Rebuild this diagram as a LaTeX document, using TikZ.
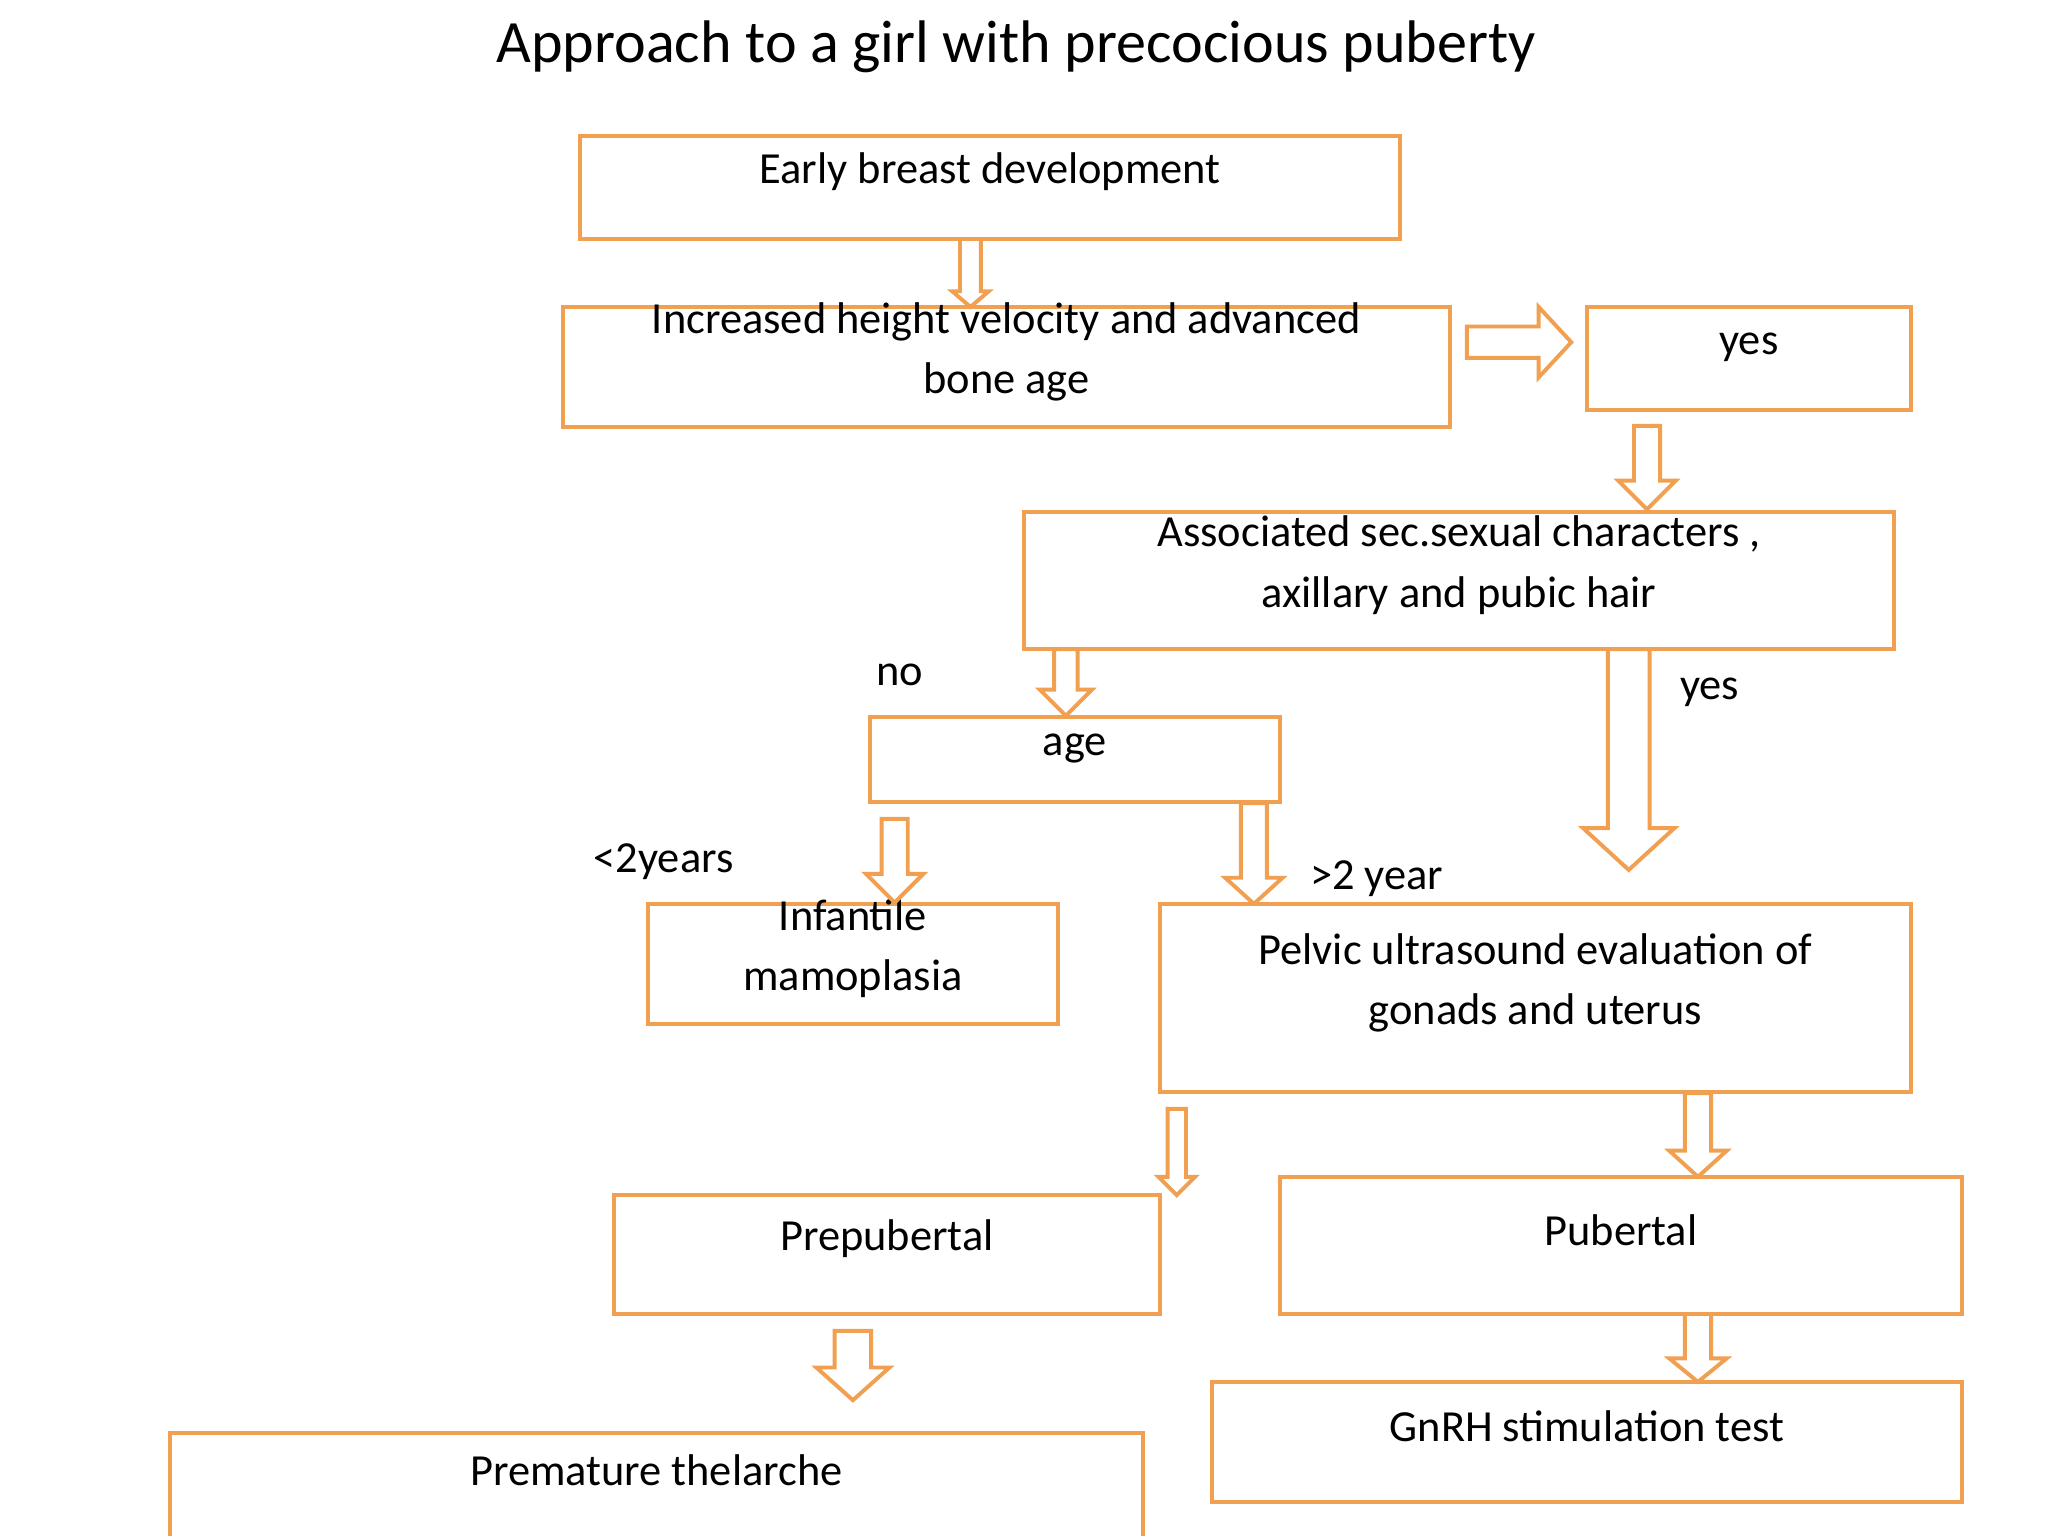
\documentclass[tikz,border=0pt]{standalone}
\usepackage{fontspec}
\setmainfont{Carlito}
\usetikzlibrary{fit}
\definecolor{org}{HTML}{F0A050}
\tikzset{
 box/.style={draw=org,line width=1.6pt,inner sep=0pt,align=center,font=\fontsize{17}{23}\selectfont},
 lbl/.style={font=\fontsize{17}{20}\selectfont},
 blk/.style={draw=org,line width=1.5pt,fill=white,line join=miter}
}
% down block arrow: x, ytop, ybot, shaft half, head half, head length
\newcommand\darr[6]{\draw[blk] (#1-#4,#2)--(#1+#4,#2)--(#1+#4,#3-#6)--(#1+#5,#3-#6)--(#1,#3)--(#1-#5,#3-#6)--(#1-#4,#3-#6)--cycle;}
\newcommand\rarr[6]{\draw[blk] (#2,#1-#4)--(#2,#1+#4)--(#3-#6,#1+#4)--(#3-#6,#1+#5)--(#3,#1)--(#3-#6,#1-#5)--(#3-#6,#1-#4)--cycle;}
\begin{document}
\begin{tikzpicture}[x=0.5pt,y=-0.5pt]
\useasboundingbox (0,0) rectangle (1568,1176);
\node[font=\fontsize{23}{26}\selectfont] (title) at (778,36) {Approach to a girl with precocious puberty};
\node[box,fit={(444,104)(1072,183)}] (b1) {Early breast development};
\node[box,fit={(431,235)(1110,327)}] (b2) {Increased height velocity and advanced\\bone age};
\node[box,fit={(1215,235)(1463,314)}] (yes) {yes};
\node[box,fit={(784,392)(1450,497)}] (b3) {Associated sec.sexual characters ,\\axillary and pubic hair};
\node[box,fit={(666,549)(980,614)}] (age) {age};
\node[box,fit={(496,692)(810,784)}] (inf) {Infantile\\mamoplasia};
\node[box,fit={(888,692)(1463,836)}] (pel) {Pelvic ultrasound evaluation of\\gonads and uterus};
\node[box,fit={(470,915)(888,1006)}] (pre) {Prepubertal};
\node[box,fit={(980,901)(1502,1006)}] (pub) {Pubertal};
\node[box,fit={(928,1058)(1502,1150)}] (gn) {GnRH stimulation test};
\node[box,fit={(130,1097)(875,1178)}] (pt) {Premature thelarche};
\node[lbl] (l1) at (689,517) {no};
\node[lbl] (l2) at (1309,530) {yes};
\node[lbl] (l3) at (508,660) {<2years};
\node[lbl] (l4) at (1054,673) {>2 year};
\darr{743}{183}{235}{8}{14}{12}
\rarr{262}{1123}{1203}{12}{27}{25}
\darr{1261}{326}{390}{10}{22}{22}
\darr{816}{497}{548}{9}{20}{20}
\darr{1247}{497}{666}{16}{35}{32}
\darr{685}{627}{691}{10}{22}{22}
\darr{960}{615}{692}{10}{22}{20}
\darr{901}{849}{915}{7}{14}{14}
\darr{1300}{837}{901}{10}{22}{20}
\darr{653}{1019}{1072}{14}{28}{25}
\darr{1300}{1006}{1058}{10}{22}{18}
\end{tikzpicture}
\end{document}
